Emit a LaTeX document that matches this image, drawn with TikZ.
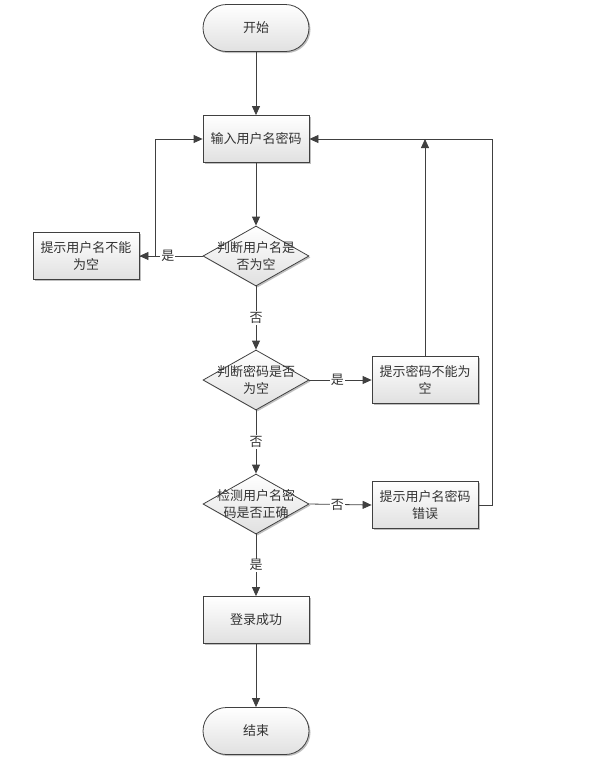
\documentclass[tikz,border=0pt]{standalone}
\usepackage{fontspec}
\setmainfont{Noto Sans CJK SC}
\usetikzlibrary{shapes.geometric,arrows.meta,shadows}
\definecolor{ln}{HTML}{404040}
\definecolor{tx}{HTML}{333333}
\tikzset{
  base/.style={draw=ln, line width=0.8pt, top color=white, bottom color=black!12,
    drop shadow={shadow xshift=1.5pt, shadow yshift=-1.5pt, opacity=0.25, fill=black},
    text=tx, font=\fontsize{13}{16.5}\selectfont, align=center, inner sep=0pt},
  term/.style={base, minimum width=106pt, minimum height=47pt, rounded corners=23.5pt},
  proc/.style={base, rectangle, minimum width=106pt, minimum height=47pt, text width=100pt},
  dia/.style={base, diamond, minimum width=106pt, minimum height=60pt},
  dtext/.style={text=tx, font=\fontsize{13}{16.5}\selectfont, align=center, inner sep=0pt},
  arr/.style={draw=ln, line width=0.8pt, -{Triangle[length=9pt,width=8pt]}},
  lbl/.style={fill=white, text=tx, font=\fontsize{13}{14}\selectfont, inner sep=1pt}
}
\begin{document}
\begin{tikzpicture}[x=1pt,y=-1pt]
\useasboundingbox (0,0) rectangle (600,764);
\node[term] (start) at (256,28) {开始};
\node[proc] (in) at (256,139) {输入用户名密码};
\node[dia] (d1) at (256,256) {};
\node[dtext] (t1) at (256,256) {判断用户名是\\否为空};
\node[proc] (b1) at (86,256) {提示用户名不能\\为空};
\node[dia] (d2) at (256,380) {};
\node[dtext] (t2) at (256,380) {判断密码是否\\为空};
\node[proc] (b2) at (425,380) {提示密码不能为\\空};
\node[dia] (d3) at (256,504) {};
\node[dtext] (t3) at (256,504) {检测用户名密\\码是否正确};
\node[proc] (b3) at (425,505) {提示用户名密码\\错误};
\node[proc] (ok) at (256,620) {登录成功};
\node[term] (end) at (256,731) {结束};

\draw[arr] (start) -- (in);
\draw[arr] (in) -- (d1);
\draw[arr] (d1.west) -- node[lbl, pos=0.55] (l1) {是} (b1.east);
\draw[arr] (b1.east) -- ++(16,0) |- (in.west);
\draw[arr] (d1) -- node[lbl] (l2) {否} (d2);
\draw[arr] (d2.east) -- node[lbl, pos=0.45] (l3) {是} (b2.west);
\draw[arr] (b2.north) -- (b2.north |- in.east);
\draw[arr] (d2) -- node[lbl] (l4) {否} (d3);
\draw[arr] (d3.east) -- node[lbl, pos=0.45] (l5) {否} (b3.west);
\draw[arr] (b3.east) -- ++(14,0) |- (in.east);
\draw[arr] (d3) -- node[lbl] (l6) {是} (ok);
\draw[arr] (ok) -- (end);
\end{tikzpicture}
\end{document}
